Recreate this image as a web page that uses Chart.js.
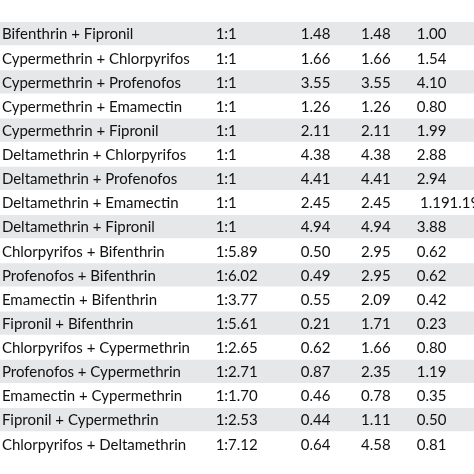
<!DOCTYPE html>
<html><head><meta charset="utf-8">
<script src="https://cdn.jsdelivr.net/npm/chart.js@4/dist/chart.umd.min.js"></script>
<style>html,body{margin:0;padding:0;background:#fff}#wrap{width:474px;height:474px}</style>
</head><body><div id="wrap"><canvas id="tbl"></canvas></div>
<script>
var mixtures = ['Bifenthrin + Fipronil','Cypermethrin + Chlorpyrifos','Cypermethrin + Profenofos','Cypermethrin + Emamectin',
  'Cypermethrin + Fipronil','Deltamethrin + Chlorpyrifos','Deltamethrin + Profenofos','Deltamethrin + Emamectin',
  'Deltamethrin + Fipronil','Chlorpyrifos + Bifenthrin','Profenofos + Bifenthrin','Emamectin + Bifenthrin',
  'Fipronil + Bifenthrin','Chlorpyrifos + Cypermethrin','Profenofos + Cypermethrin','Emamectin + Cypermethrin',
  'Fipronil + Cypermethrin','Chlorpyrifos + Deltamethrin']
var ratios = ['1:1','1:1','1:1','1:1','1:1','1:1','1:1','1:1','1:1','1:5.89','1:6.02','1:3.77','1:5.61','1:2.65','1:2.71','1:1.70','1:2.53','1:7.12']
var colA = ['1.48','1.66','3.55','1.26','2.11','4.38','4.41','2.45','4.94','0.50','0.49','0.55','0.21','0.62','0.87','0.46','0.44','0.64']
var colB = ['1.48','1.66','3.55','1.26','2.11','4.38','4.41','2.45','4.94','2.95','2.95','2.09','1.71','1.66','2.35','0.78','1.11','4.58']
var colC = ['1.00','1.54','4.10','0.80','1.99','2.88','2.94','1.191.190','3.88','0.62','0.62','0.42','0.23','0.80','1.19','0.35','0.50','0.81']

// stripes: every other row shaded
var stripes = mixtures.map(function(m, i) { return i % 2 === 0 ? [0, 1] : [0, 0] })

const cellText = {
  id: 'cellText',
  afterDatasetsDraw(chart) {
    const {ctx, scales: {x, y}} = chart
    ctx.save()
    ctx.font = '15px Lato'
    ctx.fillStyle = '#111'
    ctx.textBaseline = 'middle'
    mixtures.forEach(function(name, i) {
      var py = y.getPixelForValue(i) + 1
      ctx.textAlign = 'left'
      ctx.fillText(name, x.getPixelForValue(0.004), py)
      ctx.fillText(ratios[i], x.getPixelForValue(0.455), py)
      ctx.textAlign = 'right'
      ctx.fillText(colA[i], x.getPixelForValue(0.697), py)
      ctx.fillText(colB[i], x.getPixelForValue(0.824), py)
      if (colC[i].length > 4) { ctx.textAlign = 'left'; ctx.fillText(colC[i], x.getPixelForValue(0.886), py) }
      else ctx.fillText(colC[i], x.getPixelForValue(0.942), py)
    })
    ctx.restore()
  }
}

new Chart(document.getElementById('tbl'), {
  type: 'bar',
  data: {
    datasets: [{ data: stripes.map(function(s, i) { return {x: s, y: i} }),
      backgroundColor: '#e6e7e8', barPercentage: 0.97, categoryPercentage: 1 }]
  },
  plugins: [cellText],
  options: {
    indexAxis: 'y', animation: false, responsive: true, maintainAspectRatio: false,
    layout: {padding: 0},
    plugins: {legend: {display: false}, tooltip: {enabled: false}},
    scales: {
      x: {type: 'linear', min: 0, max: 1, display: false},
      y: {type: 'linear', min: -0.41, max: 17.27, reverse: true, display: false}
    }
  }
})
</script></body></html>
